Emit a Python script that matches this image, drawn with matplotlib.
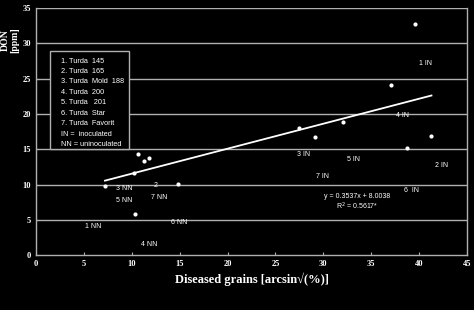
import matplotlib
matplotlib.use("Agg")
import matplotlib.pyplot as plt
import numpy as np

# uninoculated (NN) and inoculated (IN) points
nn_x = [7.2, 10.7, 11.3, 11.8, 10.2, 14.8, 10.35]
nn_y = [9.8, 14.3, 13.3, 13.8, 11.7, 10.1, 5.8]
in_x = [39.6, 37.1, 32.1, 27.5, 29.1, 41.3, 38.75]
in_y = [32.8, 24.1, 18.9, 18.0, 16.8, 16.9, 15.2]

slope, intercept = 0.3537, 8.0038

# point labels: (text, x, y)
labels = [
    ("1 IN", 40.7, 27.2), ("4 IN", 38.3, 19.8), ("3 IN", 27.9, 14.3),
    ("5 IN", 33.2, 13.5), ("2 IN", 42.4, 12.7), ("7 IN", 29.9, 11.2),
    ("6  IN", 39.2, 9.2),
    ("3 NN", 9.2, 9.45), ("2", 12.5, 9.8), ("7 NN", 12.9, 8.1),
    ("5 NN", 9.2, 7.7), ("1 NN", 6.0, 4.0), ("6 NN", 15.0, 4.6),
    ("4 NN", 11.85, 1.5),
]

legend_lines = [
    "1. Turda  145", "2. Turda  165", "3. Turda  Mold  188",
    "4. Turda  200", "5. Turda   201", "6. Turda  Star",
    "7. Turda  Favorit", "IN =  inoculated", "NN = uninoculated",
]

fg = "white"
grid = "#b0b0b0"

fig = plt.figure(figsize=(4.74, 3.10), dpi=100, facecolor="black")
ax = fig.add_axes([0.076, 0.177, 0.909, 0.797], facecolor="black")

ax.set_xlim(0, 45)
ax.set_ylim(0, 35)
ax.set_xticks(np.arange(0, 46, 5))
ax.set_yticks(np.arange(0, 36, 5))
for y in range(5, 36, 5):
    ax.axhline(y, color=grid, lw=1.0, zorder=1)

for s in ["left", "right", "bottom"]:
    ax.spines[s].set_color(grid)
    ax.spines[s].set_linewidth(1.0)
ax.spines["top"].set_visible(False)

ax.tick_params(colors=grid, labelcolor=fg, length=2, width=0.8, direction="in", pad=3.5)
for lab in ax.get_xticklabels() + ax.get_yticklabels():
    lab.set_fontfamily("Liberation Serif")
    lab.set_fontweight("bold")
    lab.set_fontsize(6)

ax.scatter(nn_x + in_x, nn_y + in_y, s=9, color=fg, zorder=3, linewidths=0)

all_x = np.array(nn_x + in_x)
lx = np.array([all_x.min(), all_x.max()])
ax.plot(lx, slope * lx + intercept, color=fg, lw=1.3, zorder=2)

for t, x, y in labels:
    ax.text(x, y, t, color=fg, fontsize=5, ha="center", va="center",
            fontfamily="Liberation Sans")

ax.text(33.5, 8.3, "y = 0.3537x + 8.0038", color=fg, fontsize=5,
        ha="center", va="center", fontfamily="Liberation Sans")
ax.text(33.5, 6.9, "R$^2$ = 0.5617*", color=fg, fontsize=5,
        ha="center", va="center", fontfamily="Liberation Sans")

# legend box
ax.add_patch(plt.Rectangle((1.5, 15.0), 8.2, 13.9, facecolor="black",
                           edgecolor=grid, lw=1.0, zorder=4))
for i, t in enumerate(legend_lines):
    ax.text(2.6, 27.5 - i * 1.48, t, color=fg, fontsize=5.3, va="center",
            ha="left", fontfamily="Liberation Sans", zorder=5)

ax.set_xlabel("Diseased grains [arcsin\u221a(%)]", color=fg, fontsize=9,
              fontfamily="Liberation Serif", fontweight="bold", labelpad=3)
fig.text(0.021, 0.87, "DON\n[ppm]", color=fg, fontsize=7, rotation=90,
         ha="center", va="center", fontfamily="Liberation Serif",
         fontweight="bold", linespacing=0.95)

fig.savefig("out.png", dpi=100, facecolor="black")
